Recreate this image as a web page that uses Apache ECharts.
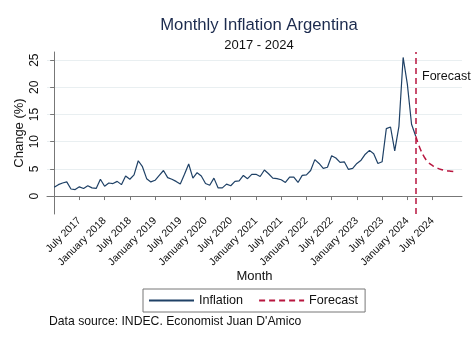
<!DOCTYPE html>
<html>
<head>
<meta charset="utf-8">
<script src="https://cdn.jsdelivr.net/npm/echarts@6/dist/echarts.min.js"></script>
<style>
html,body{margin:0;padding:0;background:#fff;}
#chart{width:474px;height:344px;}
</style>
</head>
<body>
<div id="chart"></div>
<script>
// Monthly inflation (%), January 2017 .. March 2024 (month index 0 = Jan 2017)
const inflation = [
  1.6, 2.1, 2.4, 2.6, 1.3, 1.2, 1.7, 1.4, 1.9, 1.5, 1.4, 3.1,
  1.8, 2.4, 2.3, 2.7, 2.1, 3.7, 3.1, 3.9, 6.5, 5.4, 3.2, 2.6,
  2.9, 3.8, 4.7, 3.4, 3.1, 2.7, 2.2, 4.0, 5.9, 3.3, 4.3, 3.7,
  2.3, 2.0, 3.3, 1.5, 1.5, 2.2, 1.9, 2.7, 2.8, 3.8, 3.2, 4.0,
  4.0, 3.6, 4.8, 4.1, 3.3, 3.2, 3.0, 2.5, 3.5, 3.5, 2.5, 3.8,
  3.9, 4.7, 6.7, 6.0, 5.1, 5.3, 7.4, 7.0, 6.2, 6.3, 4.9, 5.1,
  6.0, 6.6, 7.7, 8.4, 7.8, 6.0, 6.3, 12.4, 12.7, 8.3, 12.8, 25.5,
  20.6, 13.2, 11.0
];
// Forecast (%), March 2024 .. December 2024
const forecastStart = 86;
const forecast = [11.0, 8.8, 7.2, 6.2, 5.6, 5.2, 4.9, 4.7, 4.6, 4.5];

const xTickValues = [6, 12, 18, 24, 30, 36, 42, 48, 54, 60, 66, 72, 78, 84, 90];
const xTickLabels = ["July 2017", "January 2018", "July 2018", "January 2019", "July 2019",
  "January 2020", "July 2020", "January 2021", "July 2021", "January 2022", "July 2022",
  "January 2023", "July 2023", "January 2024", "July 2024"];
const yTickValues = [0, 5, 10, 15, 20, 25];

const FONT = '"Liberation Sans", Arial, sans-serif';

const inflationData = inflation.map((v, i) => [i, v]);
const forecastData = forecast.map((v, i) => [forecastStart + i, v]);

const chart = echarts.init(document.getElementById('chart'), null, {renderer: 'canvas'});
chart.setOption({
  animation: false,
  backgroundColor: '#ffffff',
  textStyle: {fontFamily: FONT},
  grid: {left: 47, right: 12, top: 52, bottom: 130, containLabel: false},
  title: [
    {text: 'Monthly Inflation Argentina', left: 254, top: 12, textAlign: 'center',
     textStyle: {fontFamily: FONT, fontSize: 16.7, fontWeight: 'normal', color: '#1c2b4e'}},
    {text: '2017 - 2024', left: 254, top: 34, textAlign: 'center',
     textStyle: {fontFamily: FONT, fontSize: 13, fontWeight: 'normal', color: '#111'}}
  ],
  legend: {
    left: 143, top: 289,
    itemWidth: 45, itemHeight: 10, itemGap: 15,
    padding: [5, 7, 5, 5],
    borderColor: '#777', borderWidth: 1,
    itemStyle: {opacity: 0, borderWidth: 0},
    textStyle: {fontFamily: FONT, fontSize: 12.6, color: '#111'},
    data: ['Inflation', 'Forecast']
  },
  xAxis: {
    type: 'value', min: -1.7, max: 97,
    name: 'Month', nameLocation: 'middle', nameGap: 56, nameMoveOverlap: false,
    nameTextStyle: {fontFamily: FONT, fontSize: 13, color: '#111'},
    axisLine: {show: true, lineStyle: {color: '#777', width: 1}},
    axisTick: {show: true, length: 4, customValues: xTickValues, lineStyle: {color: '#777'}},
    axisLabel: {
      customValues: xTickValues, rotate: 45, margin: 5,
      fontFamily: FONT, fontSize: 10.5, color: '#111',
      formatter: v => xTickLabels[xTickValues.indexOf(Math.round(v))] || ''
    },
    splitLine: {show: false}
  },
  yAxis: {
    type: 'value', min: -3.3, max: 26.5,
    name: 'Change (%)', nameLocation: 'middle', nameGap: 21, nameMoveOverlap: false,
    nameTextStyle: {fontFamily: FONT, fontSize: 13, color: '#111'},
    axisLine: {show: true, lineStyle: {color: '#777', width: 1}},
    axisTick: {show: true, length: 4, customValues: yTickValues, lineStyle: {color: '#777'}},
    axisLabel: {customValues: yTickValues, rotate: 90, margin: 6,
      fontFamily: FONT, fontSize: 12, color: '#111'},
    splitLine: {show: true, lineStyle: {color: '#e9eff1', width: 1}}
  },
  graphic: [
    {type: 'text', left: 49, top: 316,
     style: {text: "Data source: INDEC. Economist Juan D'Amico", font: '12.2px ' + FONT, fill: '#111'}},
    {type: 'text', left: 422, top: 70,
     style: {text: 'Forecast', font: '12.5px ' + FONT, fill: '#111'}}
  ],
  series: [
    {name: 'Inflation', type: 'line', data: inflationData, showSymbol: false, symbol: 'none',
     lineStyle: {color: '#1f4166', width: 1.2}, itemStyle: {color: '#1f4166'}},
    {name: 'Forecast', type: 'line', data: forecastData, showSymbol: false, symbol: 'none', smooth: 0.4,
     lineStyle: {color: '#b8163f', width: 1.5, type: [6, 4]}, itemStyle: {color: '#b8163f'},
     markLine: {silent: true, symbol: 'none', label: {show: false},
       lineStyle: {color: '#b8163f', width: 1.5, type: [6, 4]},
       data: [{xAxis: forecastStart}]}}
  ]
});
</script>
</body>
</html>
